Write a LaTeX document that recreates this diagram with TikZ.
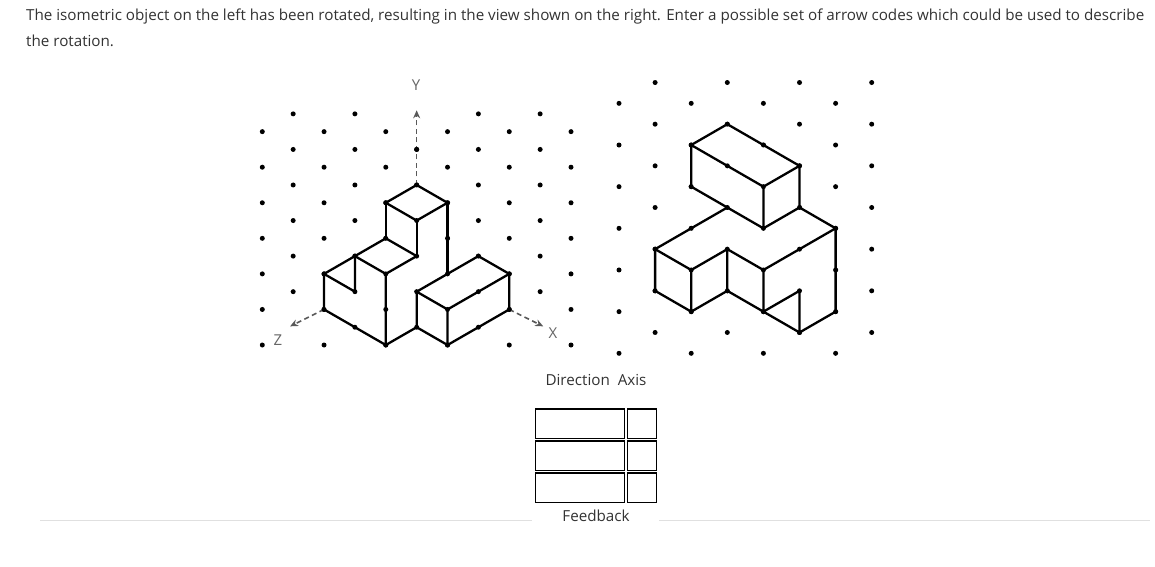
\documentclass[tikz,border=0pt]{standalone}
\usepackage{fontspec}
\setmainfont{Open Sans}
\usetikzlibrary{arrows.meta}
\definecolor{txt}{HTML}{333333}
\tikzset{
  gdot/.style={fill=black},
  edge/.style={line width=2.3pt,line join=round,line cap=round},
  axisline/.style={draw=black!65,line width=1.6pt,dash pattern=on 5pt off 3.5pt,-{Stealth[length=8pt,width=7pt]}},
  axlabel/.style={text=black!60,font=\fontsize{15}{17}\selectfont},
  ansbox/.style={draw=black,line width=1.3pt},
  lbl/.style={text=txt,font=\fontsize{15.2}{18}\selectfont,inner sep=0pt}
}
\begin{document}
\begin{tikzpicture}[x=1pt,y=1pt]
\useasboundingbox (0,0) rectangle (1155,-566);
\fill[white] (0,0) rectangle (1155,-566);
\node[lbl,anchor=west] (h1) at (26,-17) {The isometric object on the left has been rotated, resulting in the view shown on the right. Enter a possible set of arrow codes which could be used to describe};
\node[lbl,anchor=west] (h2) at (26,-41) {the rotation.};
% left grid
\begin{scope}[x={(30.87pt,0)},y={(0,17.78pt)},shift={(262.3pt,-345pt)}]
\foreach \i in {0,2,...,10}{\foreach \k in {0,2,...,12}{\fill[gdot] (\i,\k) circle[radius=2.5pt];}}
\foreach \i in {1,3,...,9}{\foreach \k in {3,5,...,11}{\fill[gdot] (\i,\k) circle[radius=2.5pt];}}
\foreach \i in {1,3,7,9}{\fill[gdot] (\i,13) circle[radius=2.5pt];}
\fill[white] (4,0)--(2,2)--(2,4)--(4,6)--(4,8)--(5,9)--(6,8)--(6,4)--(7,5)--(8,4)--(8,2)--(6,0)--(5,1)--cycle;
\coordinate (ybase) at (5,9); \coordinate (ytip) at (5,13.2);
\coordinate (zbase) at (2,2); \coordinate (ztip) at (0.9,1.05);
\coordinate (xbase) at (8,2); \coordinate (xtip) at (9.1,1.05);
\draw[axisline] (ybase) -- (ytip);
\draw[axisline] (zbase) -- (ztip);
\draw[axisline] (xbase) -- (xtip);
\draw[edge] (5,9)--(4,8)--(5,7)--(6,8)--cycle;
\draw[edge] (4,8)--(4,6) (5,7)--(5,5) (6,8)--(6,4);
\draw[edge] (4,6)--(5,5) (4,6)--(2,4) (3,5)--(4,4)--(5,5);
\draw[edge] (2,4)--(3,3)--(3,5) (4,4)--(4,0) (2,4)--(2,2)--(4,0)--(5,1)--(5,3);
\draw[edge] (5,3)--(7,5)--(8,4)--(6,2)--(5,3) (6,2)--(6,0) (5,1)--(6,0)--(8,2)--(8,4);
\foreach \p in {(4,0),(3,1),(2,2),(2,4),(3,5),(4,6),(4,8),(5,9),(6,8),(5,7),(5,5),(6,6),(6,4),(3,3),(4,4),(4,2),(5,3),(5,1),(7,5),(8,4),(7,3),(6,2),(6,0),(7,1),(8,2),(5,11)}{\fill[gdot] \p circle[radius=2.5pt];}
\end{scope}
\node[axlabel] (ylab) at (416,-85) {Y};
\node[axlabel] (zlab) at (278,-340) {Z};
\node[axlabel] (xlab) at (553,-333) {X};
% right grid
\begin{scope}[x={(36.1pt,0)},y={(0,20.83pt)},shift={(619pt,-353.3pt)}]
\foreach \i in {0,2,...,6}{\foreach \k in {0,2,...,12}{\fill[gdot] (\i,\k) circle[radius=2.5pt];}}
\foreach \i in {1,3,...,7}{\foreach \k in {1,3,...,13}{\fill[gdot] (\i,\k) circle[radius=2.5pt];}}
\fill[white] (2,10)--(3,11)--(5,9)--(5,7)--(6,6)--(6,2)--(5,1)--(4,2)--(3,3)--(2,2)--(1,3)--(1,5)--(3,7)--(2,8)--cycle;
\draw[edge] (2,10)--(3,11)--(5,9)--(4,8)--(2,10)--(2,8)--(4,6)--(4,8) (5,9)--(5,7)--(4,6);
\draw[edge] (5,7)--(6,6)--(4,4) (3,7)--(1,5)--(2,4)--(3,5)--(4,4);
\draw[edge] (1,5)--(1,3)--(2,2)--(2,4) (3,5)--(3,3) (4,4)--(4,2) (6,6)--(6,2)--(5,1)--(3,3)--(2,2);
\draw[edge] (4,2)--(5,3)--(5,1);
\foreach \p in {(2,10),(3,11),(4,10),(5,9),(3,9),(4,8),(2,8),(4,6),(5,7),(3,7),(2,6),(1,5),(6,6),(5,5),(4,4),(3,5),(2,4),(1,3),(2,2),(3,3),(4,2),(5,3),(5,1),(6,2),(6,4)}{\fill[gdot] \p circle[radius=2.5pt];}
\end{scope}
% answer area
\node[lbl] (dir) at (596,-380) {Direction\ \ Axis};
\foreach \r in {0,1,2}{
  \draw[ansbox] (535.5,{-409-32*\r}) rectangle (624.5,{-438.5-32*\r});
  \draw[ansbox] (627.5,{-409-32*\r}) rectangle (656.5,{-438.5-32*\r});
}
\node[lbl] (fb) at (596,-516) {Feedback};
\draw[black!12,line width=0.8pt] (40,-520) -- (532,-520) (659,-520) -- (1150,-520);
\end{tikzpicture}
\end{document}
